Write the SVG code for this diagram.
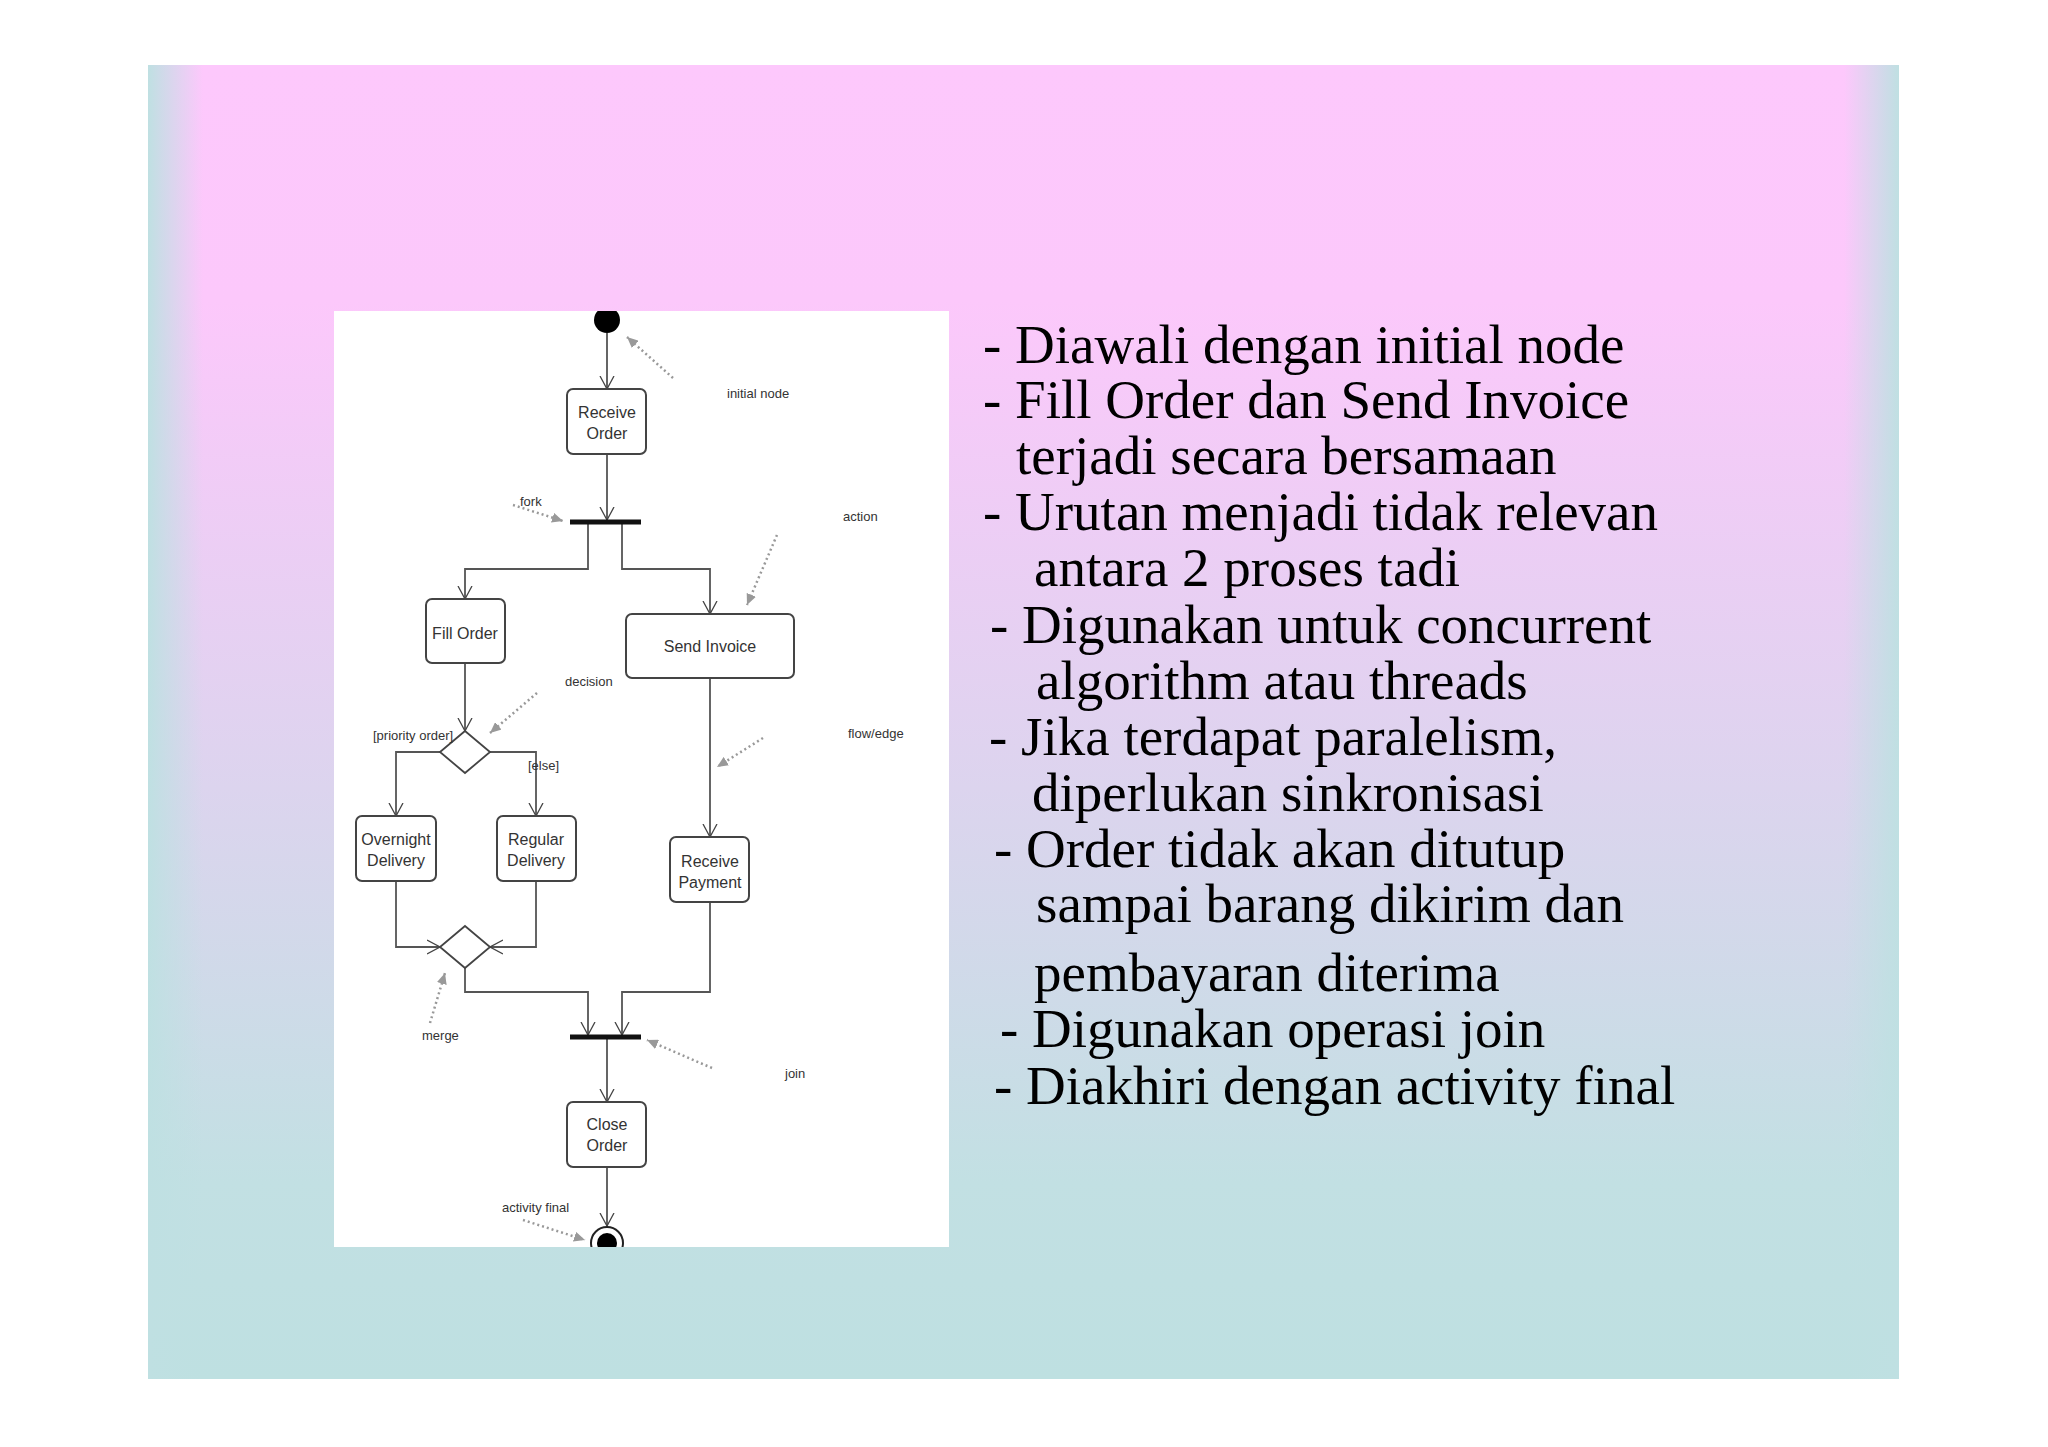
<svg xmlns="http://www.w3.org/2000/svg" width="2048" height="1447" viewBox="0 0 2048 1447">
<defs>
<linearGradient id="bg" x1="0" y1="0" x2="0" y2="1">
<stop offset="0" stop-color="#fdc8fc"/>
<stop offset="0.18" stop-color="#fcc8fb"/>
<stop offset="0.55" stop-color="#dcd4ee"/>
<stop offset="0.85" stop-color="#c2e0e3"/>
<stop offset="1" stop-color="#bee0e1"/>
</linearGradient>
<linearGradient id="sideL" x1="0" y1="0" x2="1" y2="0">
<stop offset="0" stop-color="#bfe0e2" stop-opacity="1"/>
<stop offset="1" stop-color="#bfe0e2" stop-opacity="0"/>
</linearGradient>
<linearGradient id="sideR" x1="1" y1="0" x2="0" y2="0">
<stop offset="0" stop-color="#bfe0e2" stop-opacity="1"/>
<stop offset="1" stop-color="#bfe0e2" stop-opacity="0"/>
</linearGradient>
<clipPath id="panel"><rect x="334" y="311" width="615" height="936"/></clipPath>
<marker id="open" markerWidth="14" markerHeight="16" refX="13" refY="8" orient="auto" markerUnits="userSpaceOnUse">
<path d="M0,1 L13,8 L0,15" fill="none" stroke="#444" stroke-width="1.3"/>
</marker>
<marker id="tri" markerWidth="12" markerHeight="10" refX="11" refY="5" orient="auto" markerUnits="userSpaceOnUse">
<path d="M0,0 L11,5 L0,10 Z" fill="#999"/>
</marker>
</defs>
<style>
.box{fill:#fff;stroke:#444;stroke-width:2}
.t{font-family:"Liberation Sans",Arial,sans-serif;font-size:16px;fill:#333;text-anchor:middle}
.s{font-family:"Liberation Sans",Arial,sans-serif;font-size:13px;fill:#333}
.f{fill:none;stroke:#555;stroke-width:1.8}
.d{fill:none;stroke:#999;stroke-width:2.5;stroke-dasharray:2 3;marker-end:url(#tri)}
.bar{stroke:#111;stroke-width:5}
.big{font-family:"Liberation Serif","Times New Roman",serif;font-size:55px;fill:#000}
</style>
<rect x="0" y="0" width="2048" height="1447" fill="#fff"/>
<rect x="148" y="65" width="1751" height="1314" fill="url(#bg)"/>
<rect x="148" y="65" width="55" height="1314" fill="url(#sideL)"/>
<rect x="1844" y="65" width="55" height="1314" fill="url(#sideR)"/>
<rect x="334" y="311" width="615" height="936" fill="#fff"/>
<g clip-path="url(#panel)">
<g id="connectors">
<path class="f" d="M607,333 V389" marker-end="url(#open)"/>
<path class="f" d="M607,454 V520" marker-end="url(#open)"/>
<path class="f" d="M588,524 V569 H465 V599" marker-end="url(#open)"/>
<path class="f" d="M622,524 V569 H710 V614" marker-end="url(#open)"/>
<path class="f" d="M465,663 V731" marker-end="url(#open)"/>
<path class="f" d="M440,752 H396 V816" marker-end="url(#open)"/>
<path class="f" d="M490,752 H536 V816" marker-end="url(#open)"/>
<path class="f" d="M710,678 V837" marker-end="url(#open)"/>
<path class="f" d="M396,881 V947 H440" marker-end="url(#open)"/>
<path class="f" d="M536,881 V947 H490" marker-end="url(#open)"/>
<path class="f" d="M465,968 V992 H588 V1035" marker-end="url(#open)"/>
<path class="f" d="M710,902 V992 H622 V1035" marker-end="url(#open)"/>
<path class="f" d="M607,1039 V1102" marker-end="url(#open)"/>
<path class="f" d="M607,1167 V1226" marker-end="url(#open)"/>
<path class="d" d="M673,378 L627,337"/>
<path class="d" d="M513,505 L563,521"/>
<path class="d" d="M777,535 L747,605"/>
<path class="d" d="M537,693 L490,733"/>
<path class="d" d="M763,738 L717,767"/>
<path class="d" d="M430,1023 L445,973"/>
<path class="d" d="M712,1068 L647,1040"/>
<path class="d" d="M523,1220 L585,1240"/>
</g>
<g id="initial"><circle cx="607" cy="320" r="13" fill="#000"/></g>
<g id="receiveOrder"><rect class="box" x="567" y="389" width="79" height="65" rx="6"/><text class="t" x="607" y="418">Receive</text><text class="t" x="607" y="439">Order</text></g>
<g id="fork"><line class="bar" x1="570" y1="522" x2="641" y2="522"/></g>
<g id="fillOrder"><rect class="box" x="426" y="599" width="79" height="64" rx="6"/><text class="t" x="465" y="639">Fill Order</text></g>
<g id="sendInvoice"><rect class="box" x="626" y="614" width="168" height="64" rx="6"/><text class="t" x="710" y="652">Send Invoice</text></g>
<g id="decision"><path d="M465,731 L490,752 L465,773 L440,752 Z" fill="#fff" stroke="#444" stroke-width="1.8"/></g>
<g id="overnight"><rect class="box" x="356" y="816" width="80" height="65" rx="6"/><text class="t" x="396" y="845">Overnight</text><text class="t" x="396" y="866">Delivery</text></g>
<g id="regular"><rect class="box" x="497" y="816" width="79" height="65" rx="6"/><text class="t" x="536" y="845">Regular</text><text class="t" x="536" y="866">Delivery</text></g>
<g id="receivePayment"><rect class="box" x="670" y="837" width="79" height="65" rx="6"/><text class="t" x="710" y="867">Receive</text><text class="t" x="710" y="888">Payment</text></g>
<g id="merge"><path d="M465,926 L490,947 L465,968 L440,947 Z" fill="#fff" stroke="#444" stroke-width="1.8"/></g>
<g id="join"><line class="bar" x1="570" y1="1037" x2="641" y2="1037"/></g>
<g id="closeOrder"><rect class="box" x="567" y="1102" width="79" height="65" rx="6"/><text class="t" x="607" y="1130">Close</text><text class="t" x="607" y="1151">Order</text></g>
<g id="final"><circle cx="607" cy="1243" r="16" fill="#fff" stroke="#222" stroke-width="2"/><circle cx="607" cy="1243" r="10" fill="#000"/></g>
<g id="labels">
<text class="s" x="727" y="398">initial node</text>
<text class="s" x="520" y="506">fork</text>
<text class="s" x="843" y="521">action</text>
<text class="s" x="565" y="686">decision</text>
<text class="s" x="373" y="740">[priority order]</text>
<text class="s" x="848" y="738">flow/edge</text>
<text class="s" x="528" y="770">[else]</text>
<text class="s" x="422" y="1040">merge</text>
<text class="s" x="785" y="1078">join</text>
<text class="s" x="502" y="1212">activity final</text>
</g>
</g>
<g id="bullets">
<text class="big" x="983" y="363">- Diawali dengan initial node</text>
<text class="big" x="983" y="418">- Fill Order dan Send Invoice</text>
<text class="big" x="1016" y="474">terjadi secara bersamaan</text>
<text class="big" x="983" y="530">- Urutan menjadi tidak relevan</text>
<text class="big" x="1034" y="586">antara 2 proses tadi</text>
<text class="big" x="990" y="643">- Digunakan untuk concurrent</text>
<text class="big" x="1036" y="699">algorithm atau threads</text>
<text class="big" x="989" y="755">- Jika terdapat paralelism,</text>
<text class="big" x="1032" y="811">diperlukan sinkronisasi</text>
<text class="big" x="994" y="867">- Order tidak akan ditutup</text>
<text class="big" x="1036" y="922">sampai barang dikirim dan</text>
<text class="big" x="1034" y="991">pembayaran diterima</text>
<text class="big" x="1000" y="1047">- Digunakan operasi join</text>
<text class="big" x="994" y="1104">- Diakhiri dengan activity final</text>
</g>
</svg>
